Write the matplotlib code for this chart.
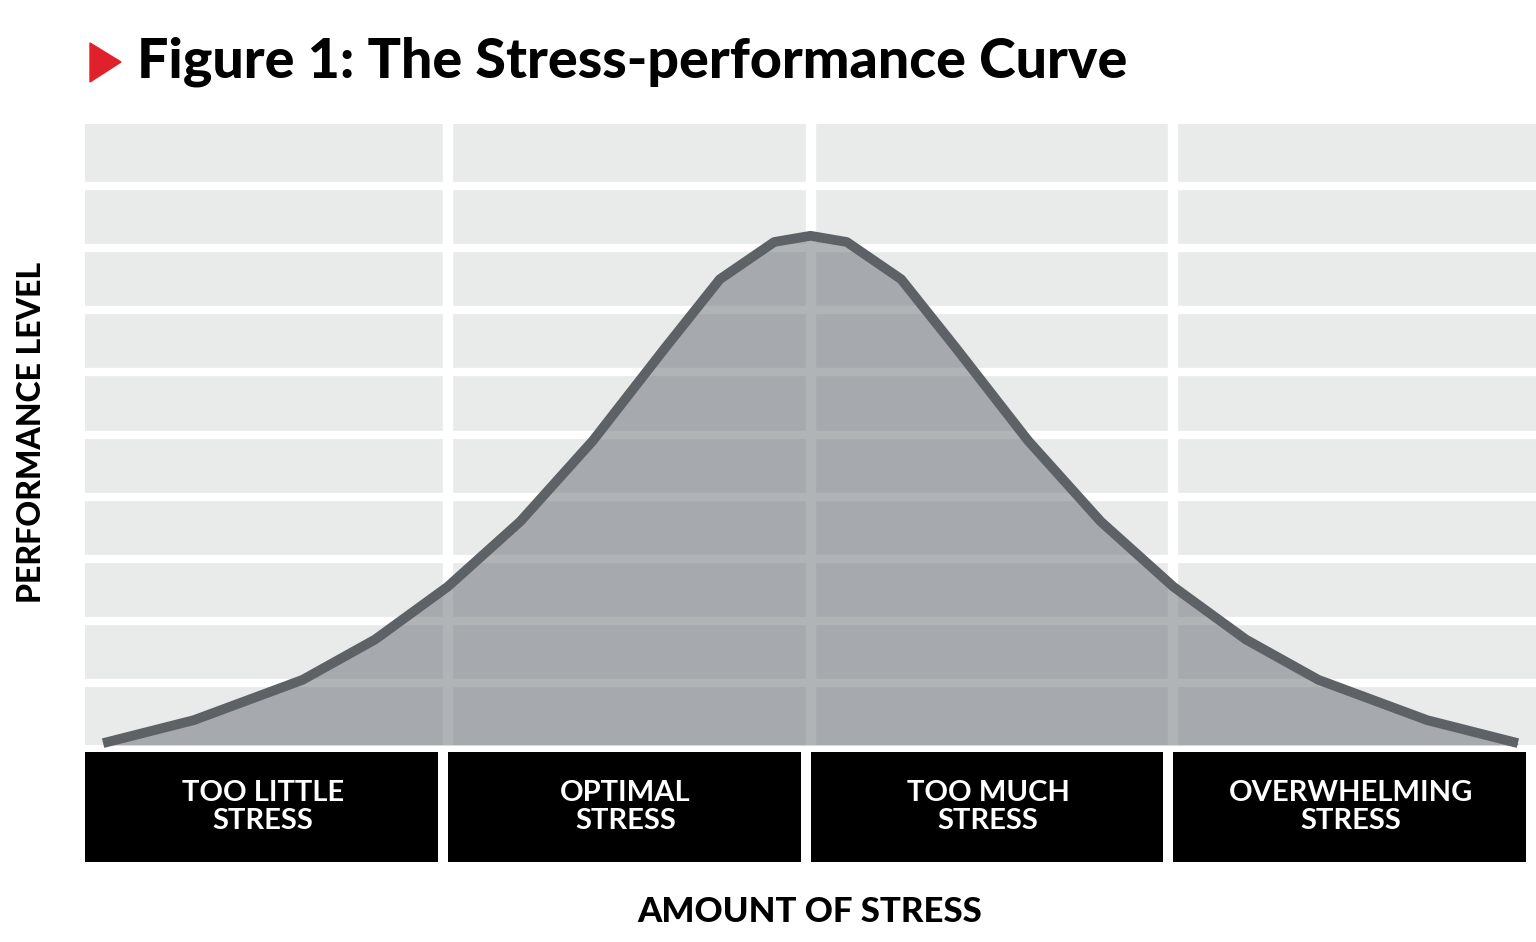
import matplotlib
matplotlib.use("Agg")
import matplotlib.pyplot as plt
from matplotlib.patches import Polygon

categories = ["TOO LITTLE\nSTRESS", "OPTIMAL\nSTRESS", "TOO MUCH\nSTRESS", "OVERWHELMING\nSTRESS"]
curve_x = [0.05, 0.3, 0.6, 0.8, 1.0, 1.2, 1.4, 1.6, 1.75, 1.9, 2.0, 2.1, 2.25, 2.4, 2.6, 2.8, 3.0, 3.2, 3.4, 3.7, 3.95]
curve_y = [0.03, 0.4, 1.05, 1.7, 2.55, 3.6, 4.9, 6.4, 7.5, 8.1, 8.2, 8.1, 7.5, 6.4, 4.9, 3.6, 2.55, 1.7, 1.05, 0.4, 0.03]
title = "Figure 1: The Stress-performance Curve"
ylabel = "PERFORMANCE LEVEL"
xlabel = "AMOUNT OF STRESS"

plt.rcParams['font.family'] = ['Lato', 'DejaVu Sans']
fig = plt.figure(figsize=(15.36, 9.42), dpi=100)
W, H = 1536, 942

ax = fig.add_axes([85/W, 1-745/H, 1-85/W, 621/H])
ax.set_facecolor("#e9eaea")
ax.set_xlim(0, 4); ax.set_ylim(0, 10)
for y in range(1, 10):
    ax.axhline(y, color="white", lw=6, zorder=1)
for x in range(1, 4):
    ax.axvline(x, color="white", lw=7.5, zorder=1)
ax.fill_between(curve_x, curve_y, 0, color="#6f777d", alpha=0.55, lw=0, zorder=2)
ax.plot(curve_x, curve_y, color="#5c6266", lw=7, solid_capstyle="butt", zorder=3, clip_on=False)
ax.set_xticks([]); ax.set_yticks([])
for s in ax.spines.values():
    s.set_visible(False)

bx = fig.add_axes([85/W, 1-862/H, 1-85/W, 110/H])
bx.set_xlim(0, 4); bx.set_ylim(0, 1)
bx.bar(range(4), [1]*4, width=1-10/362.75, align="edge", color="black")
for i, c in enumerate(categories):
    bx.text(i + 0.49, 0.5, c, color="white", ha="center", va="center",
            fontsize=21, fontweight="bold", linespacing=1.05)
bx.axis("off")

fig.text(1-0.0, 0, "")
tri = Polygon([[90/W, 1-43/H], [90/W, 1-82/H], [121/W, 1-62/H]], closed=True,
              transform=fig.transFigure, color="#e0202a")
fig.patches.append(tri)
fig.text(137/W, 1-62/H, title, fontsize=40, fontweight="black", va="center", ha="left")
fig.text(32/W, 1-432/H, ylabel, rotation=90, fontsize=23, fontweight="black",
         va="center", ha="center")
fig.text(810/W, 1-912/H, xlabel, fontsize=25, fontweight="black", va="center", ha="center")

fig.savefig("out.png", dpi=100)
